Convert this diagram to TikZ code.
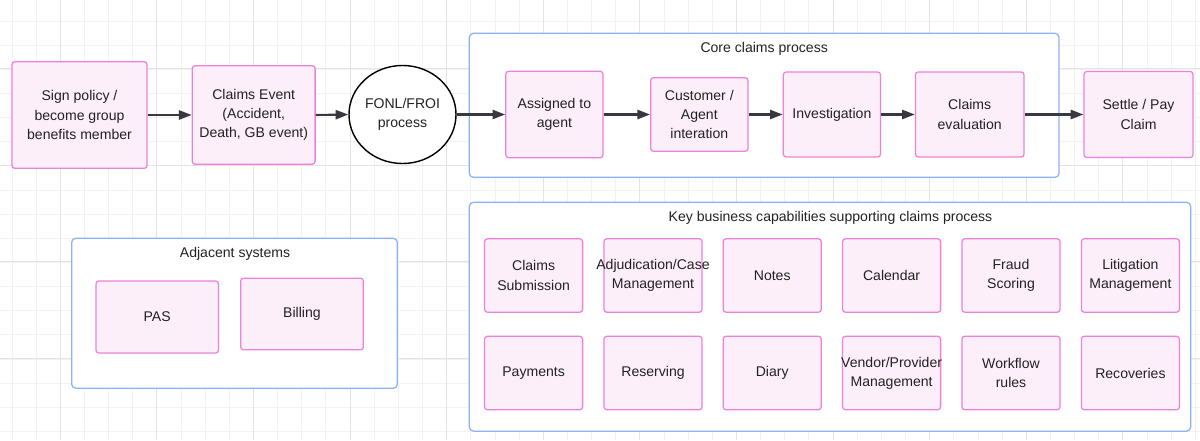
\documentclass[tikz,border=0pt]{standalone}
\usepackage{fontspec}
\setmainfont{Liberation Sans}
\usetikzlibrary{arrows.meta,shapes.geometric}
\definecolor{boxfill}{HTML}{FCEFF9}
\definecolor{boxline}{HTML}{EE82DA}
\definecolor{groupline}{HTML}{8AB4F5}
\definecolor{arrowgray}{HTML}{383840}
\definecolor{gridminor}{HTML}{F2F2F2}
\definecolor{gridmajor}{HTML}{E3E3E3}
\definecolor{inkgray}{HTML}{222222}
\newcommand{\wideline}[1]{\makebox[0pt]{#1}}

\begin{document}
\begin{tikzpicture}[x=0.025cm,y=-0.025cm,
  every node/.style={font=\fontsize{10}{13.7}\selectfont,text=inkgray},
  pinkbox/.style={draw=boxline,fill=boxfill,line width=0.9pt,rounded corners=2pt,align=center,inner sep=0pt},
  groupbox/.style={draw=groupline,fill=white,line width=0.9pt,rounded corners=3pt,inner sep=0pt},
  flow/.style={draw=arrowgray,line width=1.5pt,-{Triangle[length=9pt,width=6.5pt]}}]
\useasboundingbox (0,0) rectangle (1200,440);
\fill[white] (0,0) rectangle (1200,440);
% background grid
\foreach \i in {0,...,49} \draw[gridminor,line width=0.7pt] (12+24.15*\i,0) -- (12+24.15*\i,440);
\foreach \j in {0,...,17} \draw[gridminor,line width=0.7pt] (0,21+24.15*\j) -- (1200,21+24.15*\j);
\foreach \i in {0,...,11} \draw[gridmajor,line width=0.7pt] (60.3+96.6*\i,0) -- (60.3+96.6*\i,440);
\foreach \j in {0,...,3} \draw[gridmajor,line width=0.7pt] (0,68.7+96.6*\j) -- (1200,68.7+96.6*\j);
% group frames
\node[groupbox,minimum width=14.74cm,minimum height=3.6cm] (core) at (764.2,105.3) {};
\node[groupbox,minimum width=8.14cm,minimum height=3.75cm] (adjacent) at (234.5,313.3) {};
\node[groupbox,minimum width=18.03cm,minimum height=5.72cm] (keycaps) at (830,316.7) {};
\node (coretitle) at (764.2,49.3) {Core claims process};
\node (adjtitle) at (235,254) {Adjacent systems};
\node (keytitle) at (830.5,218.3) {Key business capabilities supporting claims process};
% top flow
\node[pinkbox,minimum width=3.375cm,minimum height=2.665cm] (sign) at (79.5,115) {Sign policy /\\become group\\benefits member};
\node[pinkbox,minimum width=3.07cm,minimum height=2.46cm] (event) at (253.7,115) {Claims Event\\(Accident,\\Death, GB event)};
\node[draw=black,line width=1pt,ellipse,fill=white,align=center,inner sep=0pt,minimum width=2.675cm,minimum height=2.45cm] (fonl) at (402.5,114.5) {FONL/FROI\\process};
\node[pinkbox,minimum width=2.43cm,minimum height=2.16cm] (assigned) at (554.4,114.5) {Assigned to\\agent};
\node[pinkbox,minimum width=2.43cm,minimum height=1.84cm] (custint) at (699.3,114.5) {Customer /\\Agent\\interation};
\node[pinkbox,minimum width=2.43cm,minimum height=2.12cm] (invest) at (831.9,114.5) {Investigation};
\node[pinkbox,minimum width=2.715cm,minimum height=2.125cm] (evaluation) at (969.7,114.5) {Claims\\evaluation};
\node[pinkbox,minimum width=2.725cm,minimum height=2.15cm] (settle) at (1138.5,114.5) {Settle / Pay\\Claim};
\draw[flow] (sign.east) -- (event.west);
\draw[flow] (event.east) -- (fonl.west);
\draw[flow] (fonl.east) -- (assigned.west);
\draw[flow] (assigned.east) -- (custint.west);
\draw[flow] (custint.east) -- (invest.west);
\draw[flow] (invest.east) -- (evaluation.west);
\draw[flow] (evaluation.east) -- (settle.west);
% adjacent systems
\node[pinkbox,minimum width=3.06cm,minimum height=1.8cm] (pas) at (157.2,317) {PAS};
\node[pinkbox,minimum width=3.065cm,minimum height=1.79cm] (billing) at (302,314) {Billing};
% capabilities
\node[pinkbox,minimum width=2.45cm,minimum height=1.835cm] (subm) at (533.6,275.5) {Claims\\Submission};
\node[pinkbox,minimum width=2.45cm,minimum height=1.835cm] (adjud) at (653,275.5) {\wideline{Adjudication/Case}\\\wideline{Management}};
\node[pinkbox,minimum width=2.45cm,minimum height=1.835cm] (notes) at (772.2,275.5) {Notes};
\node[pinkbox,minimum width=2.45cm,minimum height=1.835cm] (calendar) at (891.6,275.5) {Calendar};
\node[pinkbox,minimum width=2.45cm,minimum height=1.835cm] (fraud) at (1011,275.5) {Fraud\\Scoring};
\node[pinkbox,minimum width=2.45cm,minimum height=1.835cm] (litig) at (1130.4,275.5) {Litigation\\Management};
\node[pinkbox,minimum width=2.45cm,minimum height=1.835cm] (payments) at (533.6,373) {Payments};
\node[pinkbox,minimum width=2.45cm,minimum height=1.835cm] (reserving) at (653,373) {Reserving};
\node[pinkbox,minimum width=2.45cm,minimum height=1.835cm] (diary) at (772.2,373) {Diary};
\node[pinkbox,minimum width=2.45cm,minimum height=1.835cm] (vendor) at (891.6,373) {\wideline{Vendor/Provider}\\\wideline{Management}};
\node[pinkbox,minimum width=2.45cm,minimum height=1.835cm] (workflow) at (1011,373) {Workflow\\rules};
\node[pinkbox,minimum width=2.45cm,minimum height=1.835cm] (recov) at (1130.4,373) {Recoveries};
\end{tikzpicture}
\end{document}
